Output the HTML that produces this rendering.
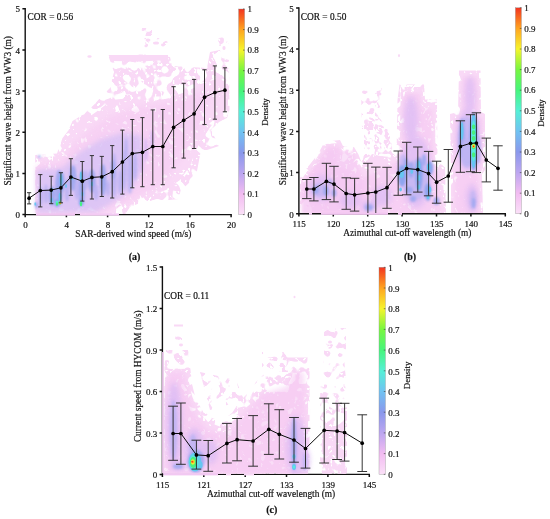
<!DOCTYPE html>
<html lang="en"><head><meta charset="utf-8"><title>Density scatter plots</title>
<style>html,body{margin:0;padding:0;background:#fff}svg{display:block}text{font-family:"Liberation Serif", serif;fill:#111;stroke:#111;stroke-width:.18px}</style></head><body>
<svg width="550" height="519" viewBox="0 0 550 519">
<defs>
<linearGradient id="cm" x1="0" y1="1" x2="0" y2="0">
<stop offset="0" stop-color="#fbe0f8"/>
<stop offset="0.1" stop-color="#f2bcf1"/>
<stop offset="0.2" stop-color="#bca6f0"/>
<stop offset="0.3" stop-color="#8a98ec"/>
<stop offset="0.4" stop-color="#70c2f2"/>
<stop offset="0.5" stop-color="#55f0d6"/>
<stop offset="0.6" stop-color="#46f57c"/>
<stop offset="0.7" stop-color="#78f640"/>
<stop offset="0.8" stop-color="#f6f42c"/>
<stop offset="0.9" stop-color="#ffa420"/>
<stop offset="1" stop-color="#f23420"/>
</linearGradient>
<filter id="b0_6" x="-20%" y="-20%" width="140%" height="140%"><feGaussianBlur stdDeviation="0.6"/></filter>
<filter id="b1_0" x="-20%" y="-20%" width="140%" height="140%"><feGaussianBlur stdDeviation="1"/></filter>
<filter id="b1_6" x="-20%" y="-20%" width="140%" height="140%"><feGaussianBlur stdDeviation="1.6"/></filter>
<filter id="b2_5" x="-20%" y="-20%" width="140%" height="140%"><feGaussianBlur stdDeviation="2.5"/></filter>
<filter id="holesA" x="-5%" y="-5%" width="110%" height="110%"><feTurbulence type="fractalNoise" baseFrequency="0.13" numOctaves="1" seed="3" result="n"/><feColorMatrix in="n" type="matrix" values="0 0 0 0 0 0 0 0 0 0 0 0 0 0 0 16 0 0 0 -7" result="m"/><feTurbulence type="fractalNoise" baseFrequency="0.33" numOctaves="1" seed="43" result="n2"/><feColorMatrix in="n2" type="matrix" values="0 0 0 0 0 0 0 0 0 0 0 0 0 0 0 16 0 0 0 -5.4" result="m2"/><feComposite in="SourceGraphic" in2="m" operator="in" result="s1"/><feComposite in="s1" in2="m2" operator="in"/></filter>
<filter id="holesB" x="-5%" y="-5%" width="110%" height="110%"><feTurbulence type="fractalNoise" baseFrequency="0.16" numOctaves="1" seed="8" result="n"/><feColorMatrix in="n" type="matrix" values="0 0 0 0 0 0 0 0 0 0 0 0 0 0 0 16 0 0 0 -8.8" result="m"/><feTurbulence type="fractalNoise" baseFrequency="0.33" numOctaves="1" seed="48" result="n2"/><feColorMatrix in="n2" type="matrix" values="0 0 0 0 0 0 0 0 0 0 0 0 0 0 0 16 0 0 0 -5.8" result="m2"/><feComposite in="SourceGraphic" in2="m" operator="in" result="s1"/><feComposite in="s1" in2="m2" operator="in"/></filter>
<filter id="holesC" x="-5%" y="-5%" width="110%" height="110%"><feTurbulence type="fractalNoise" baseFrequency="0.14" numOctaves="1" seed="5" result="n"/><feColorMatrix in="n" type="matrix" values="0 0 0 0 0 0 0 0 0 0 0 0 0 0 0 16 0 0 0 -8.3" result="m"/><feTurbulence type="fractalNoise" baseFrequency="0.33" numOctaves="1" seed="45" result="n2"/><feColorMatrix in="n2" type="matrix" values="0 0 0 0 0 0 0 0 0 0 0 0 0 0 0 16 0 0 0 -5.8" result="m2"/><feComposite in="SourceGraphic" in2="m" operator="in" result="s1"/><feComposite in="s1" in2="m2" operator="in"/></filter>
<filter id="holesD" x="-5%" y="-5%" width="110%" height="110%"><feTurbulence type="fractalNoise" baseFrequency="0.13" numOctaves="1" seed="11" result="n"/><feColorMatrix in="n" type="matrix" values="0 0 0 0 0 0 0 0 0 0 0 0 0 0 0 16 0 0 0 -6" result="m"/><feTurbulence type="fractalNoise" baseFrequency="0.33" numOctaves="1" seed="51" result="n2"/><feColorMatrix in="n2" type="matrix" values="0 0 0 0 0 0 0 0 0 0 0 0 0 0 0 16 0 0 0 -5" result="m2"/><feComposite in="SourceGraphic" in2="m" operator="in" result="s1"/><feComposite in="s1" in2="m2" operator="in"/></filter>
<filter id="holesF" x="-5%" y="-5%" width="110%" height="110%"><feTurbulence type="fractalNoise" baseFrequency="0.13" numOctaves="1" seed="23" result="n"/><feColorMatrix in="n" type="matrix" values="0 0 0 0 0 0 0 0 0 0 0 0 0 0 0 16 0 0 0 -7.4" result="m"/><feTurbulence type="fractalNoise" baseFrequency="0.33" numOctaves="1" seed="63" result="n2"/><feColorMatrix in="n2" type="matrix" values="0 0 0 0 0 0 0 0 0 0 0 0 0 0 0 16 0 0 0 -5.4" result="m2"/><feComposite in="SourceGraphic" in2="m" operator="in" result="s1"/><feComposite in="s1" in2="m2" operator="in"/></filter>
<filter id="holesG" x="-5%" y="-5%" width="110%" height="110%"><feTurbulence type="fractalNoise" baseFrequency="0.2" numOctaves="1" seed="31" result="n"/><feColorMatrix in="n" type="matrix" values="0 0 0 0 0 0 0 0 0 0 0 0 0 0 0 16 0 0 0 -7.9" result="m"/><feTurbulence type="fractalNoise" baseFrequency="0.33" numOctaves="1" seed="71" result="n2"/><feColorMatrix in="n2" type="matrix" values="0 0 0 0 0 0 0 0 0 0 0 0 0 0 0 16 0 0 0 -5.6" result="m2"/><feComposite in="SourceGraphic" in2="m" operator="in" result="s1"/><feComposite in="s1" in2="m2" operator="in"/></filter>
<filter id="holesE" x="-5%" y="-5%" width="110%" height="110%"><feTurbulence type="fractalNoise" baseFrequency="0.15" numOctaves="1" seed="17" result="n"/><feColorMatrix in="n" type="matrix" values="0 0 0 0 0 0 0 0 0 0 0 0 0 0 0 16 0 0 0 -5.2" result="m"/><feTurbulence type="fractalNoise" baseFrequency="0.33" numOctaves="1" seed="57" result="n2"/><feColorMatrix in="n2" type="matrix" values="0 0 0 0 0 0 0 0 0 0 0 0 0 0 0 16 0 0 0 -4.9" result="m2"/><feComposite in="SourceGraphic" in2="m" operator="in" result="s1"/><feComposite in="s1" in2="m2" operator="in"/></filter>
<clipPath id="cpa"><rect x="25.2" y="7.7" width="213.9" height="206.2"/></clipPath>
<clipPath id="cpb"><rect x="298.9" y="6.9" width="214.4" height="206.2"/></clipPath>
<clipPath id="cpc"><rect x="162.4" y="266" width="214.9" height="207.7"/></clipPath>
</defs>
<rect width="550" height="519" fill="#fff"/>
<g id="plot-a">
<path d="M25.2 8.7V214.6H231.1" fill="none" stroke="#111" stroke-width="1.4" stroke-linecap="square"/>
<path d="M25.2 214.6v2.6M66.4 214.6v2.6M107.6 214.6v2.6M148.7 214.6v2.6M189.9 214.6v2.6M231.1 214.6v2.6M25.2 214.6h-2.8M25.2 173.4h-2.8M25.2 132.2h-2.8M25.2 91.1h-2.8M25.2 49.9h-2.8M25.2 8.7h-2.8" fill="none" stroke="#111" stroke-width="1.5"/>
<g clip-path="url(#cpa)">
<g filter="url(#holesA)"><polygon points="35.2,216 35.2,155 57,153.5 62.4,138.3 68.5,130.2 72.5,121.1 84,114 94,104.8 102,96 110,88 114,72 108.8,57 140,54.5 154,55 170,57 172,66 207,68 210,52 220,50 222,58 229,60 229.5,110 227,118 219,122 211,130 219,146 207,150 201,150 197,171 191,181 180.5,191 178.5,199 160,201 140,203 130,207 124,216" fill="#f9d9f6"/></g><g filter="url(#holesB)"><polygon points="144,38 170,38 172,46 146,46" fill="#f9d9f6"/><polygon points="218,38 229,37 229,46 219,46" fill="#f9d9f6"/><polygon points="138,28 152,28 152,36 140,36" fill="#f9d9f6"/><ellipse cx="90" cy="57" rx="2.5" ry="1.5" fill="#f9d9f6"/></g><polygon points="108.6,55 168,55 168,60 140,61.5 111,61" fill="#f9d9f6"/><ellipse cx="89.5" cy="56.5" rx="2.2" ry="1.3" fill="#f9d9f6"/><ellipse cx="148" cy="40" rx="2.5" ry="1.6" fill="#f9d9f6"/><ellipse cx="156" cy="43" rx="3" ry="1.5" fill="#f9d9f6"/><ellipse cx="163" cy="45" rx="2" ry="1.4" fill="#f9d9f6"/><ellipse cx="146" cy="46" rx="1.6" ry="1.2" fill="#f9d9f6"/><ellipse cx="222" cy="40" rx="2" ry="2.4" fill="#f9d9f6"/><ellipse cx="224" cy="48" rx="1.6" ry="2" fill="#f9d9f6"/><ellipse cx="143" cy="30" rx="1.4" ry="1" fill="#f9d9f6"/><g filter="url(#holesE)"><polygon points="35.5,216 35.5,158 58,156 66,140 76,126 96,112 112,100 130,98 150,102 170,98 190,90 205,82 222,78 228,84 228,106 214,122 204,136 196,150 190,166 180,180 166,190 150,196 134,200 120,206 108,216" fill="#f9d9f6"/></g><g filter="url(#b2_5)" opacity="0.4"><polygon points="36,215 36,164 60,162 72,146 90,130 112,116 136,108 160,104 176,100 196,92 210,96 200,126 186,150 172,172 156,188 136,198 116,206 100,215" fill="#f5c6f2"/></g><g filter="url(#b2_5)" opacity="0.7"><polygon points="37,213 37,170 62,168 80,152 100,140 124,132 142,136 142,172 130,192 112,203 96,212" fill="#d2c0f5"/></g><g filter="url(#b1_0)" opacity="0.92"><ellipse cx="36.5" cy="205" rx="1.6" ry="3" fill="#9fa8f0"/><ellipse cx="39.4" cy="156.6" rx="1.3" ry="1.5" fill="#9fa8f0"/><ellipse cx="41" cy="196" rx="2.2" ry="10" fill="#beb4f3"/><ellipse cx="46" cy="194" rx="2.2" ry="10" fill="#beb4f3"/><ellipse cx="52" cy="196" rx="3.2" ry="10" fill="#9fa8f0"/><ellipse cx="59" cy="188" rx="3.8" ry="18" fill="#9fa8f0"/><ellipse cx="62" cy="182" rx="2.2" ry="10" fill="#86a2ee"/><ellipse cx="57" cy="203" rx="2.5" ry="4" fill="#86a2ee"/><ellipse cx="67" cy="190" rx="2.6" ry="12" fill="#beb4f3"/><ellipse cx="73" cy="178" rx="3.6" ry="13" fill="#9fa8f0"/><ellipse cx="77" cy="190" rx="2.6" ry="10" fill="#beb4f3"/><ellipse cx="82" cy="188" rx="3" ry="18" fill="#9fa8f0"/><ellipse cx="86" cy="180" rx="2.2" ry="10" fill="#beb4f3"/><ellipse cx="81" cy="202" rx="2.2" ry="4" fill="#86a2ee"/><ellipse cx="92" cy="181" rx="3.6" ry="12" fill="#9fa8f0"/><ellipse cx="96" cy="192" rx="2.6" ry="8" fill="#beb4f3"/><ellipse cx="103" cy="180" rx="3.2" ry="16" fill="#9fa8f0"/><ellipse cx="108" cy="188" rx="2.2" ry="8" fill="#beb4f3"/><ellipse cx="114" cy="175" rx="2.8" ry="22" fill="#beb4f3"/><ellipse cx="120" cy="182" rx="2.2" ry="12" fill="#beb4f3"/><ellipse cx="113" cy="170" rx="2" ry="10" fill="#9fa8f0"/><ellipse cx="124" cy="170" rx="2.4" ry="20" fill="#beb4f3"/><ellipse cx="130" cy="174" rx="2.6" ry="20" fill="#beb4f3"/><ellipse cx="135" cy="166" rx="2.2" ry="14" fill="#beb4f3"/><ellipse cx="141" cy="160" rx="2.2" ry="12" fill="#dcbcf4"/><ellipse cx="126" cy="150" rx="2" ry="12" fill="#beb4f3"/><ellipse cx="133" cy="146" rx="2" ry="10" fill="#dcbcf4"/><ellipse cx="146" cy="150" rx="2" ry="12" fill="#dcbcf4"/><ellipse cx="152" cy="140" rx="2" ry="10" fill="#dcbcf4"/></g><g filter="url(#b0_6)" opacity="0.95"><ellipse cx="61" cy="180" rx="1.4" ry="6.5" fill="#66c6f2"/><ellipse cx="51.6" cy="190" rx="1.2" ry="2.6" fill="#66c6f2"/><ellipse cx="51.6" cy="200" rx="1.2" ry="2.6" fill="#66c6f2"/><ellipse cx="81" cy="176" rx="1.2" ry="4.6" fill="#66c6f2"/><ellipse cx="82.4" cy="194" rx="1.1" ry="2.6" fill="#66c6f2"/><ellipse cx="92" cy="184" rx="1.1" ry="2.4" fill="#66c6f2"/><ellipse cx="72" cy="178" rx="1" ry="2.2" fill="#66c6f2"/><ellipse cx="35.2" cy="204" rx="0.9" ry="1.8" fill="#66c6f2"/><ellipse cx="60" cy="197" rx="1.4" ry="4.2" fill="#66c6f2"/><ellipse cx="57" cy="203" rx="1.4" ry="2.6" fill="#58eed8"/><ellipse cx="81" cy="203.5" rx="1.3" ry="2.8" fill="#58eed8"/><ellipse cx="102" cy="178" rx="0.9" ry="2" fill="#66c6f2"/><ellipse cx="66" cy="186" rx="0.9" ry="2" fill="#66c6f2"/></g><g filter="url(#b0_6)"><ellipse cx="57" cy="204" rx="1" ry="1.8" fill="#48f07c"/><ellipse cx="81" cy="204" rx="1" ry="2.2" fill="#48f07c"/><ellipse cx="60" cy="202.6" rx="1.3" ry="2.2" fill="#48f07c"/><ellipse cx="60.2" cy="203" rx="1" ry="1.3" fill="#e8f030"/><ellipse cx="60.6" cy="203.2" rx="0.7" ry="0.8" fill="#ffa21e"/></g>
</g>
<rect x="36" y="213.4" width="39" height="2.2" fill="#f0c4f1"/>
<rect x="80" y="213.4" width="39" height="2.2" fill="#f3caf3"/>
<g clip-path="url(#cpa)"><path d="M29.1 192.7V203.9M27 192.7H31.2M27 203.9H31.2M40.3 174.6V206.9M38.2 174.6H42.4M38.2 206.9H42.4M51.2 176.3V203.7M49.1 176.3H53.3M49.1 203.7H53.3M60.9 172.7V202.8M58.8 172.7H63M58.8 202.8H63M70.9 158.7V195.4M68.8 158.7H73M68.8 195.4H73M82.3 161.5V201.1M80.2 161.5H84.4M80.2 201.1H84.4M91.9 155.6V199M89.8 155.6H94M89.8 199H94M101.8 156.4V196.5M99.7 156.4H103.9M99.7 196.5H103.9M112.2 145.6V198M110.1 145.6H114.3M110.1 198H114.3M122.4 130.1V194.1M120.3 130.1H124.5M120.3 194.1H124.5M132.3 119.5V187.8M130.2 119.5H134.4M130.2 187.8H134.4M142.4 117.6V186.7M140.3 117.6H144.5M140.3 186.7H144.5M152.8 109.9V184.7M150.7 109.9H154.9M150.7 184.7H154.9M162.8 109.5V184.7M160.7 109.5H164.9M160.7 184.7H164.9M173.6 86.7V167.8M171.5 86.7H175.7M171.5 167.8H175.7M183.7 83.3V158.1M181.6 83.3H185.8M181.6 158.1H185.8M194.1 79.4V148.5M192 79.4H196.2M192 148.5H196.2M204.5 69.8V124.6M202.4 69.8H206.6M202.4 124.6H206.6M214.9 65.9V119.2M212.8 65.9H217M212.8 119.2H217M224.9 67.8V111.8M222.8 67.8H227M222.8 111.8H227" fill="none" stroke="#2a2a2a" stroke-width="0.95"/></g>
<polyline points="29.1,198.2 40.3,190.5 51.2,190.1 60.9,187.8 70.9,177 82.3,181.2 91.9,177.4 101.8,176.8 112.2,171.7 122.4,162 132.3,153.5 142.4,152.3 152.8,146.5 162.8,146.5 173.6,127.3 183.7,120.3 194.1,113.8 204.5,97.2 214.9,92.5 224.9,90.2" fill="none" stroke="#0a0a0a" stroke-width="1"/>
<circle cx="29.1" cy="198.2" r="1.85" fill="#000"/>
<circle cx="40.3" cy="190.5" r="1.85" fill="#000"/>
<circle cx="51.2" cy="190.1" r="1.85" fill="#000"/>
<circle cx="60.9" cy="187.8" r="1.85" fill="#000"/>
<circle cx="70.9" cy="177" r="1.85" fill="#000"/>
<circle cx="82.3" cy="181.2" r="1.85" fill="#000"/>
<circle cx="91.9" cy="177.4" r="1.85" fill="#000"/>
<circle cx="101.8" cy="176.8" r="1.85" fill="#000"/>
<circle cx="112.2" cy="171.7" r="1.85" fill="#000"/>
<circle cx="122.4" cy="162" r="1.85" fill="#000"/>
<circle cx="132.3" cy="153.5" r="1.85" fill="#000"/>
<circle cx="142.4" cy="152.3" r="1.85" fill="#000"/>
<circle cx="152.8" cy="146.5" r="1.85" fill="#000"/>
<circle cx="162.8" cy="146.5" r="1.85" fill="#000"/>
<circle cx="173.6" cy="127.3" r="1.85" fill="#000"/>
<circle cx="183.7" cy="120.3" r="1.85" fill="#000"/>
<circle cx="194.1" cy="113.8" r="1.85" fill="#000"/>
<circle cx="204.5" cy="97.2" r="1.85" fill="#000"/>
<circle cx="214.9" cy="92.5" r="1.85" fill="#000"/>
<circle cx="224.9" cy="90.2" r="1.85" fill="#000"/>
<g font-size="9.0" text-anchor="middle">
<text x="25.5" y="228.1">0</text>
<text x="66.7" y="228.1">4</text>
<text x="107.9" y="228.1">8</text>
<text x="149" y="228.1">12</text>
<text x="190.2" y="228.1">16</text>
<text x="231.4" y="228.1">20</text>
</g>
<g font-size="9.0" text-anchor="end">
<text x="20" y="218.3">0</text>
<text x="20" y="177.1">1</text>
<text x="20" y="135.9">2</text>
<text x="20" y="94.8">3</text>
<text x="20" y="53.6">4</text>
<text x="20" y="12.4">5</text>
</g>
<text x="133.3" y="237" font-size="9.35" text-anchor="middle">SAR-derived wind speed (m/s)</text>
<text transform="translate(11.2 110.8) rotate(-90)" font-size="9.35" text-anchor="middle">Significant wave height from WW3 (m)</text>
<text x="27.6" y="20.4" font-size="9.35">COR = 0.56</text>
<rect x="238.6" y="9" width="6" height="205.6" fill="url(#cm)" stroke="#8a8a8a" stroke-width="0.35"/>
<path d="M244.6 214.6h-1.6M244.6 194h-1.6M244.6 173.5h-1.6M244.6 152.9h-1.6M244.6 132.4h-1.6M244.6 111.8h-1.6M244.6 91.2h-1.6M244.6 70.7h-1.6M244.6 50.1h-1.6M244.6 29.6h-1.6M244.6 9h-1.6" stroke="#333" stroke-width="0.6" fill="none"/>
<g font-size="9.0">
<text x="247.5" y="217.7">0</text>
<text x="247.5" y="197.1">0.1</text>
<text x="247.5" y="176.6">0.2</text>
<text x="247.5" y="156">0.3</text>
<text x="247.5" y="135.5">0.4</text>
<text x="247.5" y="114.9">0.5</text>
<text x="247.5" y="94.3">0.6</text>
<text x="247.5" y="73.8">0.7</text>
<text x="247.5" y="53.2">0.8</text>
<text x="247.5" y="32.7">0.9</text>
<text x="247.5" y="12.1">1</text>
</g>
<text transform="translate(267.5 112) rotate(-90)" font-size="8.9" text-anchor="middle">Density</text>
<text x="134.5" y="259.6" font-size="10" font-weight="bold" text-anchor="middle">(a)</text>
</g>
<g id="plot-b">
<path d="M298.9 7.9V213.8H505.3" fill="none" stroke="#111" stroke-width="1.4" stroke-linecap="square"/>
<path d="M298.9 213.8v2.6M333.3 213.8v2.6M367.7 213.8v2.6M402.1 213.8v2.6M436.5 213.8v2.6M470.9 213.8v2.6M505.3 213.8v2.6M298.9 213.8h-2.8M298.9 172.6h-2.8M298.9 131.4h-2.8M298.9 90.3h-2.8M298.9 49.1h-2.8M298.9 7.9h-2.8" fill="none" stroke="#111" stroke-width="1.5"/>
<g clip-path="url(#cpb)">
<g filter="url(#holesA)"><polygon points="300,213.2 300,178 305,170 309,165.6 317.7,154.4 324.7,141.7 340,140 343,146 354,147 358.5,154.4 361.3,162 364,158 380,156 392,158 396.5,156 397.5,100 399.5,84.5 424,84.5 425,99.5 437,99.5 437.5,163 445,166 446,213.2 398,213.2 398,216 388,216 388,213.2 321,213.2 321,216 300,216" fill="#f9d9f6"/></g><polygon points="321,210 388,210 388,216 321,216" fill="#f9d9f6"/><g filter="url(#holesG)"><polygon points="362,166 364,154 364,126 367,112 375.4,112 379.6,117.8 385.2,126.3 390.8,134.7 392.2,148.8 396.5,154.4 396.5,166" fill="#f9d9f6"/></g><g filter="url(#holesD)"><polygon points="451,213.2 451,172 450,114 458,112 459,70.5 480.5,70.5 481,112 485,114 485,170 482,174 483,213.2" fill="#f9d9f6"/></g><g filter="url(#holesB)"><polygon points="361,88 382,88 384,130 362,130" fill="#f9d9f6"/><ellipse cx="399" cy="55.6" rx="1" ry="1.5" fill="#f9d9f6"/></g><ellipse cx="399" cy="55.6" rx="1" ry="1.6" fill="#f9d9f6"/><ellipse cx="364" cy="92" rx="2" ry="1.6" fill="#f9d9f6"/><ellipse cx="368" cy="100" rx="1.6" ry="2" fill="#f9d9f6"/><ellipse cx="372" cy="110" rx="2.4" ry="2" fill="#f9d9f6"/><ellipse cx="380" cy="94" rx="1.4" ry="1.4" fill="#f9d9f6"/><ellipse cx="366" cy="122" rx="2" ry="2.4" fill="#f9d9f6"/><g filter="url(#holesE)"><polygon points="301,213.2 301,180 311,166 320,153 326,144 339,143 342,150 338,160 350,164 357,160 362,168 366,162 372,154 380,156 390,157 396,161 399.5,158 400.5,104 401,87 422.5,87 423.5,102 435,102 435.5,166 443,170 444,213.2" fill="#f9d9f6"/></g><g filter="url(#holesE)"><polygon points="453,213.2 453,116 460,114 461,73 479,73 479.5,114 483,116 483,168 480,174 481,213.2" fill="#f9d9f6"/></g><polygon points="300.2,213.2 300.2,206 305,200 309,200 306,206.5 311,207 308,213.2" fill="#fff" opacity="0.85"/><g filter="url(#b1_6)" opacity="0.5"><polygon points="302,214 302,186 312,172 322,158 328,150 338,150 336,166 352,172 360,180 372,174 392,164 400,162 402.5,134 403,112 404,94 420,94 421,108 432,110 433,168 440,176 441,214" fill="#f5c6f2"/><polygon points="455,214 455,120 462,116 463,78 477,78 478,116 482,120 481,166 478,176 479,214" fill="#f5c6f2"/></g><g filter="url(#b1_6)" opacity="0.55"><polygon points="302,213 302,186 312,170 322,155 328,146 339,146 341,152 352,152 358,166 364,180 364,213" fill="#f5c6f2"/></g><g filter="url(#b2_5)" opacity="0.75"><ellipse cx="322" cy="188" rx="13" ry="13" fill="#dcbcf4"/><ellipse cx="369" cy="206" rx="8" ry="6" fill="#dcbcf4"/><ellipse cx="416" cy="172" rx="16" ry="36" fill="#dcbcf4"/><ellipse cx="411" cy="120" rx="7" ry="24" fill="#dcbcf4"/><ellipse cx="468" cy="140" rx="12" ry="32" fill="#dcbcf4"/><ellipse cx="470" cy="96" rx="5" ry="20" fill="#dcbcf4"/><ellipse cx="472" cy="198" rx="6" ry="14" fill="#dcbcf4"/><ellipse cx="382" cy="196" rx="10" ry="10" fill="#dcbcf4"/><ellipse cx="350" cy="200" rx="10" ry="8" fill="#dcbcf4"/></g><g filter="url(#b1_6)" opacity="0.75"><ellipse cx="320" cy="190" rx="8" ry="7" fill="#beb4f3"/><ellipse cx="416" cy="180" rx="13" ry="20" fill="#beb4f3"/><ellipse cx="403" cy="168" rx="5" ry="14" fill="#beb4f3"/><ellipse cx="467" cy="142" rx="9" ry="26" fill="#beb4f3"/><ellipse cx="473" cy="200" rx="3.5" ry="10" fill="#beb4f3"/><ellipse cx="369" cy="207" rx="5" ry="4" fill="#beb4f3"/></g><g filter="url(#b1_0)" opacity="0.9"><ellipse cx="326" cy="191" rx="2.8" ry="4.8" fill="#9fa8f0"/><ellipse cx="334" cy="193" rx="2.4" ry="3.8" fill="#9fa8f0"/><ellipse cx="316" cy="190" rx="2.8" ry="3.8" fill="#9fa8f0"/><ellipse cx="369" cy="207.5" rx="3.6" ry="2.8" fill="#9fa8f0"/><ellipse cx="330" cy="182" rx="2" ry="3" fill="#beb4f3"/><ellipse cx="402" cy="176" rx="4" ry="11" fill="#86a2ee"/><ellipse cx="409" cy="190" rx="3.8" ry="3.2" fill="#9fa8f0"/><ellipse cx="419" cy="174" rx="3.6" ry="17" fill="#86a2ee"/><ellipse cx="428" cy="192" rx="3.4" ry="9" fill="#86a2ee"/><ellipse cx="430" cy="168" rx="3.2" ry="7" fill="#86a2ee"/><ellipse cx="436.5" cy="201" rx="3" ry="4" fill="#9fa8f0"/><ellipse cx="413" cy="199" rx="3" ry="3" fill="#9fa8f0"/><ellipse cx="411" cy="170" rx="3" ry="8" fill="#9fa8f0"/><ellipse cx="406" cy="164" rx="2.4" ry="6" fill="#9fa8f0"/><ellipse cx="424" cy="160" rx="2.4" ry="6" fill="#9fa8f0"/><ellipse cx="462" cy="138" rx="3" ry="20" fill="#9fa8f0"/><ellipse cx="473.6" cy="142" rx="4.2" ry="29" fill="#86a2ee"/><ellipse cx="473.6" cy="203" rx="1.8" ry="5" fill="#9fa8f0"/><ellipse cx="467" cy="152" rx="6" ry="14" fill="#beb4f3"/><ellipse cx="478.5" cy="150" rx="2.4" ry="14" fill="#beb4f3"/></g><g filter="url(#b0_6)"><ellipse cx="401.7" cy="173.8" rx="2.2" ry="4.2" fill="#66c6f2"/><ellipse cx="400.6" cy="189.5" rx="1.3" ry="2" fill="#66c6f2"/><ellipse cx="418.5" cy="166" rx="2" ry="5.5" fill="#66c6f2"/><ellipse cx="418.5" cy="187" rx="1.6" ry="2.6" fill="#66c6f2"/><ellipse cx="418.8" cy="178" rx="1.6" ry="3" fill="#66c6f2"/><ellipse cx="428.6" cy="167" rx="1.8" ry="3.4" fill="#66c6f2"/><ellipse cx="429.7" cy="189.5" rx="1.6" ry="3" fill="#66c6f2"/><ellipse cx="411.8" cy="171.6" rx="1.4" ry="2.4" fill="#66c6f2"/><ellipse cx="406" cy="167" rx="1.3" ry="2.2" fill="#66c6f2"/><ellipse cx="428" cy="197" rx="1.3" ry="2.2" fill="#66c6f2"/><ellipse cx="462" cy="131" rx="1.6" ry="9" fill="#66c6f2"/><ellipse cx="473.6" cy="141" rx="3.3" ry="27" fill="#66c6f2"/><ellipse cx="473.6" cy="141" rx="2.3" ry="20" fill="#58eed8"/></g><g filter="url(#b0_6)"><ellipse cx="473.6" cy="126.8" rx="1.7" ry="2.4" fill="#48f07c"/><ellipse cx="473.6" cy="132.6" rx="1.7" ry="2.4" fill="#48f07c"/><ellipse cx="473.6" cy="138.4" rx="1.7" ry="2.4" fill="#48f07c"/><ellipse cx="473.6" cy="154.8" rx="1.7" ry="2.6" fill="#48f07c"/><ellipse cx="473.6" cy="146" rx="1.9" ry="3.2" fill="#48f07c"/><ellipse cx="473.6" cy="146" rx="1.5" ry="2.1" fill="#e8f030"/><ellipse cx="473.6" cy="146.3" rx="1" ry="1.2" fill="#ffa21e"/><ellipse cx="473.6" cy="146.4" rx="0.6" ry="0.6" fill="#f0301e"/></g>
</g>
<rect x="309" y="212.6" width="3" height="2.2" fill="#f6d2f4"/>
<rect x="321" y="212.6" width="67" height="2.2" fill="#f2c6f1"/>
<rect x="398" y="212.6" width="4" height="2.2" fill="#f4ccf3"/>
<g clip-path="url(#cpb)"><path d="M306.8 179.5V198.6M302.1 179.5H311.5M302.1 198.6H311.5M313.9 177.5V200.9M309.2 177.5H318.6M309.2 200.9H318.6M326.4 163.3V199.6M321.7 163.3H331.1M321.7 199.6H331.1M334 166.3V201.9M329.3 166.3H338.7M329.3 201.9H338.7M346.2 177.8V209.3M341.5 177.8H350.9M341.5 209.3H350.9M354.6 178.3V211.1M349.9 178.3H359.3M349.9 211.1H359.3M367.9 163.3V214M363.2 163.3H372.6M363.2 214H372.6M375.8 167.1V214M371.1 167.1H380.5M371.1 214H380.5M387 167.3V208.3M382.3 167.3H391.7M382.3 208.3H391.7M398.2 151V195.3M393.5 151H402.9M393.5 195.3H402.9M406.7 142.3V194.8M402 142.3H411.4M402 194.8H411.4M417.8 147V192.1M413.1 147H422.5M413.1 192.1H422.5M428.6 151.4V195.8M423.9 151.4H433.3M423.9 195.8H433.3M436.6 161.2V203.2M431.9 161.2H441.3M431.9 203.2H441.3M448.3 149.5V202.2M443.6 149.5H453M443.6 202.2H453M460.4 120.8V172.3M455.7 120.8H465.1M455.7 172.3H465.1M470.5 114.7V171.7M465.8 114.7H475.2M465.8 171.7H475.2M476.4 112.8V172.6M471.7 112.8H481.1M471.7 172.6H481.1M486.3 138.1V181.9M481.6 138.1H491M481.6 181.9H491M498 145.8V190.2M493.3 145.8H502.7M493.3 190.2H502.7" fill="none" stroke="#2a2a2a" stroke-width="0.95"/></g>
<polyline points="306.8,189 313.9,189 326.4,181.3 334,184.1 346.2,193.5 354.6,194.8 367.9,193 375.8,192 387,187.7 398.2,173.2 406.7,168.5 417.8,169.6 428.6,173.6 436.6,182.2 448.3,176 460.4,146.4 470.5,143.3 476.4,143 486.3,160 498,168.3" fill="none" stroke="#0a0a0a" stroke-width="1"/>
<circle cx="306.8" cy="189" r="1.85" fill="#000"/>
<circle cx="313.9" cy="189" r="1.85" fill="#000"/>
<circle cx="326.4" cy="181.3" r="1.85" fill="#000"/>
<circle cx="334" cy="184.1" r="1.85" fill="#000"/>
<circle cx="346.2" cy="193.5" r="1.85" fill="#000"/>
<circle cx="354.6" cy="194.8" r="1.85" fill="#000"/>
<circle cx="367.9" cy="193" r="1.85" fill="#000"/>
<circle cx="375.8" cy="192" r="1.85" fill="#000"/>
<circle cx="387" cy="187.7" r="1.85" fill="#000"/>
<circle cx="398.2" cy="173.2" r="1.85" fill="#000"/>
<circle cx="406.7" cy="168.5" r="1.85" fill="#000"/>
<circle cx="417.8" cy="169.6" r="1.85" fill="#000"/>
<circle cx="428.6" cy="173.6" r="1.85" fill="#000"/>
<circle cx="436.6" cy="182.2" r="1.85" fill="#000"/>
<circle cx="448.3" cy="176" r="1.85" fill="#000"/>
<circle cx="460.4" cy="146.4" r="1.85" fill="#000"/>
<circle cx="470.5" cy="143.3" r="1.85" fill="#000"/>
<circle cx="476.4" cy="143" r="1.85" fill="#000"/>
<circle cx="486.3" cy="160" r="1.85" fill="#000"/>
<circle cx="498" cy="168.3" r="1.85" fill="#000"/>
<g font-size="9.0" text-anchor="middle">
<text x="299.2" y="227.3">115</text>
<text x="333.6" y="227.3">120</text>
<text x="368" y="227.3">125</text>
<text x="402.4" y="227.3">130</text>
<text x="436.8" y="227.3">135</text>
<text x="471.2" y="227.3">140</text>
<text x="505.6" y="227.3">145</text>
</g>
<g font-size="9.0" text-anchor="end">
<text x="293.7" y="217.5">0</text>
<text x="293.7" y="176.3">1</text>
<text x="293.7" y="135.1">2</text>
<text x="293.7" y="94">3</text>
<text x="293.7" y="52.8">4</text>
<text x="293.7" y="11.6">5</text>
</g>
<text x="407.3" y="236.2" font-size="9.35" text-anchor="middle">Azimuthal cut-off wavelength (m)</text>
<text transform="translate(286.2 110.4) rotate(-90)" font-size="9.35" text-anchor="middle">Significant wave height from WW3 (m)</text>
<text x="300.8" y="19.6" font-size="9.35">COR = 0.50</text>
<rect x="515.4" y="7.8" width="6" height="206" fill="url(#cm)" stroke="#8a8a8a" stroke-width="0.35"/>
<path d="M521.4 213.8h-1.6M521.4 193.2h-1.6M521.4 172.6h-1.6M521.4 152h-1.6M521.4 131.4h-1.6M521.4 110.8h-1.6M521.4 90.2h-1.6M521.4 69.6h-1.6M521.4 49h-1.6M521.4 28.4h-1.6M521.4 7.8h-1.6" stroke="#333" stroke-width="0.6" fill="none"/>
<g font-size="9.0">
<text x="524.3" y="216.9">0</text>
<text x="524.3" y="196.3">0.1</text>
<text x="524.3" y="175.7">0.2</text>
<text x="524.3" y="155.1">0.3</text>
<text x="524.3" y="134.5">0.4</text>
<text x="524.3" y="113.9">0.5</text>
<text x="524.3" y="93.3">0.6</text>
<text x="524.3" y="72.7">0.7</text>
<text x="524.3" y="52.1">0.8</text>
<text x="524.3" y="31.5">0.9</text>
<text x="524.3" y="10.9">1</text>
</g>
<text transform="translate(544 113) rotate(-90)" font-size="8.9" text-anchor="middle">Density</text>
<text x="410" y="259.6" font-size="10" font-weight="bold" text-anchor="middle">(b)</text>
</g>
<g id="plot-c">
<path d="M162.4 267V474.4H369.3" fill="none" stroke="#111" stroke-width="1.4" stroke-linecap="square"/>
<path d="M162.4 474.4v2.6M203.8 474.4v2.6M245.2 474.4v2.6M286.5 474.4v2.6M327.9 474.4v2.6M369.3 474.4v2.6M162.4 474.4h-2.8M162.4 432.9h-2.8M162.4 391.4h-2.8M162.4 350h-2.8M162.4 308.5h-2.8M162.4 267h-2.8" fill="none" stroke="#111" stroke-width="1.5"/>
<g clip-path="url(#cpc)">
<g filter="url(#holesF)"><polygon points="163.5,476 164.5,366 166,350 188,350 190,365 192,384 196,400 203,411 212,418 222,421 232,413 240,401 250,391 256,382 262,376 270,370 286,372 287,357.5 308,357.5 309.5,372 309.5,476" fill="#f9d9f6"/></g><g filter="url(#holesC)"><polygon points="320,476 320,400 321,376 324,360 344,358 346,380 347,396 347,476" fill="#f9d9f6"/></g><g filter="url(#holesB)"><polygon points="172,324 184,324 184,327 172,327" fill="#f9d9f6"/><polygon points="174,336 182,336 182,340 174,340" fill="#f9d9f6"/><polygon points="200,372 236,380 244,400 210,410" fill="#f9d9f6"/><polygon points="324,328 346,328 346,360 324,360" fill="#f9d9f6"/><polygon points="262,352 288,352 288,372 262,372" fill="#f9d9f6"/></g><polygon points="174,324.6 183,324.6 183,326.4 174,326.4" fill="#f9d9f6"/><ellipse cx="178" cy="338" rx="3" ry="1.6" fill="#f9d9f6"/><ellipse cx="181" cy="345" rx="2" ry="1.4" fill="#f9d9f6"/><ellipse cx="294.5" cy="297" rx="1" ry="1.2" fill="#f9d9f6"/><ellipse cx="336" cy="333" rx="1.6" ry="2" fill="#f9d9f6"/><ellipse cx="330" cy="342" rx="2" ry="1.6" fill="#f9d9f6"/><ellipse cx="340" cy="346" rx="1.6" ry="2" fill="#f9d9f6"/><g filter="url(#holesE)"><polygon points="164,476 165,378 168,372 186,372 189,382 192,396 198,410 208,422 221,427 233,421 243,410 253,402 263,396 272,394 288,392 290,384 306,384 308,392 308,476" fill="#f9d9f6"/></g><g filter="url(#holesE)"><polygon points="322,476 322,436 325,426 344,426 345.5,476" fill="#f9d9f6"/></g><g filter="url(#b2_5)" opacity="0.6"><polygon points="165,474 166,382 170,372 184,372 188,394 195,414 208,430 226,434 244,416 262,394 288,386 292,372 304,372 306,474" fill="#f5c6f2"/></g><g filter="url(#b2_5)" opacity="0.8"><ellipse cx="174" cy="424" rx="8" ry="42" fill="#dcbcf4"/><ellipse cx="194" cy="450" rx="10" ry="22" fill="#dcbcf4"/><ellipse cx="296" cy="446" rx="10" ry="30" fill="#dcbcf4"/><ellipse cx="305" cy="460" rx="5" ry="12" fill="#dcbcf4"/><ellipse cx="178" cy="466" rx="8" ry="5" fill="#dcbcf4"/><ellipse cx="210" cy="452" rx="8" ry="12" fill="#dcbcf4"/></g><g filter="url(#b1_0)" opacity="0.85"><ellipse cx="173.5" cy="430" rx="3.6" ry="30" fill="#beb4f3"/><ellipse cx="193" cy="446" rx="4" ry="12" fill="#beb4f3"/><ellipse cx="196" cy="461" rx="8.5" ry="11.5" fill="#9fa8f0"/><ellipse cx="294" cy="444" rx="2.6" ry="27" fill="#9fa8f0"/><ellipse cx="305" cy="462" rx="2" ry="9" fill="#beb4f3"/><ellipse cx="178" cy="466.5" rx="5" ry="2.4" fill="#9fa8f0"/></g><g filter="url(#b0_6)"><ellipse cx="195" cy="462" rx="6.4" ry="9.4" fill="#66c6f2"/><ellipse cx="200.6" cy="465" rx="2" ry="3.4" fill="#66c6f2"/><ellipse cx="294" cy="467" rx="2" ry="3" fill="#66c6f2"/><ellipse cx="294" cy="456.6" rx="1.6" ry="2.5" fill="#66c6f2"/><ellipse cx="294" cy="467" rx="1" ry="1.6" fill="#58eed8"/></g><g filter="url(#b1_0)" opacity="0.9"><ellipse cx="194" cy="462.3" rx="4.6" ry="7.4" fill="#58eed8"/></g><g filter="url(#b0_6)"><ellipse cx="193.2" cy="462.4" rx="3.3" ry="5.6" fill="#48f07c"/><ellipse cx="192.9" cy="462" rx="2" ry="2.7" fill="#e8f030"/><ellipse cx="192.6" cy="461.7" rx="1.5" ry="1.3" fill="#ffa21e"/><ellipse cx="192.2" cy="461.7" rx="0.8" ry="0.7" fill="#f0301e"/></g>
</g>
<rect x="162.1" y="352" width="1.6" height="121.2" fill="#f0c8f0"/>
<rect x="163.2" y="473.2" width="54.8" height="2.2" fill="#f2c8f2"/>
<rect x="226" y="473.2" width="5" height="2.2" fill="#f8d8f6"/>
<rect x="244" y="473.2" width="10" height="2.2" fill="#f8d8f6"/>
<g clip-path="url(#cpc)"><path d="M173.1 406.2V460.3M168.2 406.2H178M168.2 460.3H178M180.9 403V464.3M176 403H185.8M176 464.3H185.8M196.4 440.2V469.1M191.5 440.2H201.3M191.5 469.1H201.3M208.2 440.5V471.3M203.3 440.5H213.1M203.3 471.3H213.1M226.9 423.4V463M222 423.4H231.8M222 463H231.8M237.1 418.5V460.8M232.2 418.5H242M232.2 460.8H242M253.1 415.6V466.2M248.2 415.6H258M248.2 466.2H258M268.8 403.8V454.4M263.9 403.8H273.7M263.9 454.4H273.7M279.3 409.7V459M274.4 409.7H284.2M274.4 459H284.2M294 417.5V462.2M289.1 417.5H298.9M289.1 462.2H298.9M305.5 428.4V468.1M300.6 428.4H310.4M300.6 468.1H310.4M324.2 398.2V463M319.3 398.2H329.1M319.3 463H329.1M337.1 403.3V459.5M332.2 403.3H342M332.2 459.5H342M344.6 403.3V461.1M339.7 403.3H349.5M339.7 461.1H349.5M362.2 414.8V471.5M357.3 414.8H367.1M357.3 471.5H367.1" fill="none" stroke="#2a2a2a" stroke-width="0.95"/></g>
<polyline points="173.1,433.5 180.9,433.5 196.4,454.9 208.2,455.7 226.9,443.4 237.1,439.7 253.1,441 268.8,429.3 279.3,434.3 294,440 305.5,448.5 324.2,430.3 337.1,431.1 344.6,432.5 362.2,443.2" fill="none" stroke="#0a0a0a" stroke-width="1"/>
<circle cx="173.1" cy="433.5" r="1.85" fill="#000"/>
<circle cx="180.9" cy="433.5" r="1.85" fill="#000"/>
<circle cx="196.4" cy="454.9" r="1.85" fill="#000"/>
<circle cx="208.2" cy="455.7" r="1.85" fill="#000"/>
<circle cx="226.9" cy="443.4" r="1.85" fill="#000"/>
<circle cx="237.1" cy="439.7" r="1.85" fill="#000"/>
<circle cx="253.1" cy="441" r="1.85" fill="#000"/>
<circle cx="268.8" cy="429.3" r="1.85" fill="#000"/>
<circle cx="279.3" cy="434.3" r="1.85" fill="#000"/>
<circle cx="294" cy="440" r="1.85" fill="#000"/>
<circle cx="305.5" cy="448.5" r="1.85" fill="#000"/>
<circle cx="324.2" cy="430.3" r="1.85" fill="#000"/>
<circle cx="337.1" cy="431.1" r="1.85" fill="#000"/>
<circle cx="344.6" cy="432.5" r="1.85" fill="#000"/>
<circle cx="362.2" cy="443.2" r="1.85" fill="#000"/>
<g font-size="9.0" text-anchor="middle">
<text x="162.7" y="487.9">115</text>
<text x="204.1" y="487.9">121</text>
<text x="245.5" y="487.9">127</text>
<text x="286.8" y="487.9">133</text>
<text x="328.2" y="487.9">139</text>
<text x="369.6" y="487.9">145</text>
</g>
<g font-size="9.0" text-anchor="end">
<text x="157.2" y="478.1">0</text>
<text x="157.2" y="436.6">0.3</text>
<text x="157.2" y="395.1">0.6</text>
<text x="157.2" y="353.7">0.9</text>
<text x="157.2" y="312.2">1.2</text>
<text x="157.2" y="270.7">1.5</text>
</g>
<text x="271.1" y="496.8" font-size="9.35" text-anchor="middle">Azimuthal cut-off wavelength (m)</text>
<text transform="translate(140.8 376.2) rotate(-90)" font-size="9.35" text-anchor="middle">Current speed from HYCOM (m/s)</text>
<text x="164" y="298.6" font-size="9.35">COR = 0.11</text>
<rect x="379" y="267.3" width="6.4" height="207" fill="url(#cm)" stroke="#8a8a8a" stroke-width="0.35"/>
<path d="M385.4 474.3h-1.6M385.4 453.6h-1.6M385.4 432.9h-1.6M385.4 412.2h-1.6M385.4 391.5h-1.6M385.4 370.8h-1.6M385.4 350.1h-1.6M385.4 329.4h-1.6M385.4 308.7h-1.6M385.4 288h-1.6M385.4 267.3h-1.6" stroke="#333" stroke-width="0.6" fill="none"/>
<g font-size="9.0">
<text x="388.3" y="478">0</text>
<text x="388.3" y="457.3">0.1</text>
<text x="388.3" y="436.6">0.2</text>
<text x="388.3" y="415.9">0.3</text>
<text x="388.3" y="395.2">0.4</text>
<text x="388.3" y="374.5">0.5</text>
<text x="388.3" y="353.8">0.6</text>
<text x="388.3" y="333.1">0.7</text>
<text x="388.3" y="312.4">0.8</text>
<text x="388.3" y="291.7">0.9</text>
<text x="388.3" y="271">1</text>
</g>
<text transform="translate(410.2 375.4) rotate(-90)" font-size="8.9" text-anchor="middle">Density</text>
<text x="271.8" y="512.6" font-size="10" font-weight="bold" text-anchor="middle">(c)</text>
</g>
</svg></body></html>
